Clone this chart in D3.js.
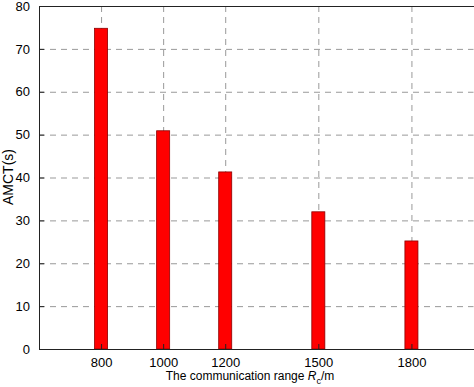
<!DOCTYPE html>
<html lang="en">
<head>
<meta charset="UTF-8" />
<script src="https://d3js.org/d3.v7.min.js"></script>
<style>
  body { margin: 0; background: #fff; }
  svg { display: block; font-family: "Liberation Sans", Arial, sans-serif; }
</style>
</head>
<body>
<svg id="chart" width="474" height="387"></svg>
<script>
const ranges = [800, 1000, 1200, 1500, 1800];
const amct = [74.8, 50.9, 41.3, 32.0, 25.2];
const yTicks = [0, 10, 20, 30, 40, 50, 60, 70, 80];

const margin = { top: 6, right: 0.5, bottom: 38, left: 39 };
const width = 474, height = 387;
const svg = d3.select("#chart");

const x = d3.scaleLinear().domain([600, 2000]).range([margin.left, width - margin.right]);
const y = d3.scaleLinear().domain([0, 80]).range([height - margin.bottom, margin.top]);

// grid
const grid = svg.append("g").attr("stroke", "#999").attr("stroke-dasharray", "6,5").attr("stroke-width", 1);
grid.selectAll(".gy").data(yTicks.slice(1, -1)).join("line")
  .attr("x1", margin.left).attr("x2", width - margin.right)
  .attr("y1", d => y(d) + 0.5).attr("y2", d => y(d) + 0.5);
grid.selectAll(".gx").data(ranges).join("line")
  .attr("x1", d => x(d) + 0.5).attr("x2", d => x(d) + 0.5)
  .attr("y1", margin.top).attr("y2", height - margin.bottom);

// bars
const barW = x(642) - x(600);
svg.append("g").selectAll("rect").data(ranges).join("rect")
  .attr("x", d => x(d) - barW / 2)
  .attr("y", (d, i) => y(amct[i]))
  .attr("width", barW)
  .attr("height", (d, i) => y(0) - y(amct[i]))
  .attr("fill", "#ff0000")
  .attr("stroke", "#8b0000")
  .attr("stroke-width", 0.8);

// axes
const yAxis = svg.append("g").attr("transform", `translate(${margin.left},0)`)
  .call(d3.axisLeft(y).tickValues(yTicks).tickSize(-5).tickPadding(9));
const xAxis = svg.append("g").attr("transform", `translate(0,${height - margin.bottom})`)
  .call(d3.axisBottom(x).tickValues(ranges).tickSize(-5).tickPadding(9).tickFormat(d3.format("d")));
[yAxis, xAxis].forEach(a => {
  a.selectAll("text").attr("font-size", 13).attr("fill", "#000").attr("font-family", "Liberation Sans, Arial, sans-serif");
  a.selectAll("line, path").attr("stroke", "#222");
});
xAxis.select(".domain").attr("d", `M${margin.left},0.5H${width}`);
yAxis.select(".domain").attr("d", `M0.5,${margin.top}V${height - margin.bottom}`);

// top border
svg.append("line").attr("x1", margin.left).attr("x2", width)
  .attr("y1", margin.top + 0.5).attr("y2", margin.top + 0.5).attr("stroke", "#222");

// labels
svg.append("text")
  .attr("transform", `translate(13,177) rotate(-90)`)
  .attr("text-anchor", "middle").attr("font-size", 14).text("AMCT(s)");

const xl = svg.append("text")
  .attr("x", 250).attr("y", 380)
  .attr("text-anchor", "middle").attr("font-size", 12);
xl.append("tspan").text("The communication range ");
xl.append("tspan").attr("font-style", "italic").text("R");
xl.append("tspan").attr("font-size", 9).attr("dy", 4).text("c");
xl.append("tspan").attr("dy", -4).text("/m");
</script>
</body>
</html>
